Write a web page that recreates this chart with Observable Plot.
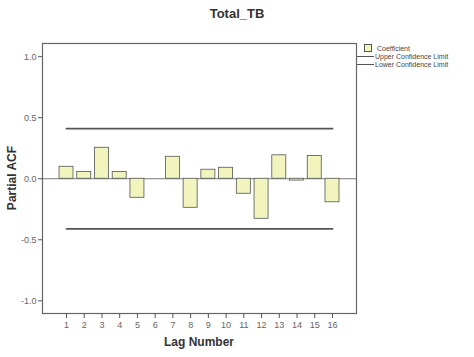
<!DOCTYPE html>
<html>
<head>
<meta charset="utf-8">
<script src="https://cdn.jsdelivr.net/npm/d3@7"></script>
<script src="https://cdn.jsdelivr.net/npm/@observablehq/plot@0.6"></script>
<style>
  body { margin: 0; background: #fff; font-family: "Liberation Sans", Arial, sans-serif; }
  #wrap { position: relative; width: 474px; height: 357px; }
  #chart { position: absolute; left: 0; top: 0; }
  .title { position: absolute; left: 0; width: 474px; top: 6px; text-align: center; font-weight: bold; font-size: 13px; color: #333; }
  .xlab { position: absolute; left: 42px; width: 314px; top: 335px; text-align: center; font-weight: bold; font-size: 12px; color: #333; }
  .ylab { position: absolute; left: 12px; top: 178px; transform: translate(-50%, -50%) rotate(-90deg); font-weight: bold; font-size: 12px; color: #333; white-space: nowrap; }
  .legend { position: absolute; left: 357px; top: 0; width: 117px; height: 80px; font-size: 7px; color: #444; }
  .legend .row { position: absolute; left: 0; display: flex; align-items: center; height: 7px; line-height: 7px; white-space: nowrap; }
  .legend .sw { width: 8px; height: 8px; background: #f2f4bd; border: 1px solid #555; box-sizing: border-box; margin-left: 7px; margin-right: 5px; }
  .legend .ln { width: 17px; height: 0; border-top: 1.5px solid #555; margin-right: 1px; }
</style>
</head>
<body>
<div id="wrap">
  <div id="chart"></div>
  <div class="title">Total_TB</div>
  <div class="ylab">Partial ACF</div>
  <div class="xlab">Lag Number</div>
  <div class="legend">
    <div class="row" style="top:44.5px"><span class="sw"></span>Coefficient</div>
    <div class="row" style="top:52.5px"><span class="ln"></span>Upper Confidence Limit</div>
    <div class="row" style="top:60.5px"><span class="ln"></span>Lower Confidence Limit</div>
  </div>
</div>
<script>
const lags = [1, 2, 3, 4, 5, 6, 7, 8, 9, 10, 11, 12, 13, 14, 15, 16];
const pacf = [0.098, 0.055, 0.254, 0.055, -0.156, 0.0, 0.18, -0.238, 0.074, 0.09, -0.123, -0.328, 0.192, -0.015, 0.186, -0.193];
const upperLimit = 0.41;
const lowerLimit = -0.41;
const yTicks = [-1.0, -0.5, 0.0, 0.5, 1.0];

const data = lags.map((lag, i) => ({lag, value: pacf[i]}));
const limits = [
  {lag: lags[0], value: upperLimit, which: "upper"},
  {lag: lags[lags.length - 1], value: upperLimit, which: "upper"},
  {lag: lags[0], value: lowerLimit, which: "lower"},
  {lag: lags[lags.length - 1], value: lowerLimit, which: "lower"}
];
const halfBar = 0.395;

const chart = Plot.plot({
  width: 474,
  height: 357,
  marginLeft: 42,
  marginRight: 118,
  marginTop: 43,
  marginBottom: 44,
  style: {fontFamily: "Liberation Sans, Arial, sans-serif", fontSize: "9px", color: "#555", background: "transparent"},
  x: {type: "linear", domain: [-0.354, 17.354]},
  y: {domain: [-1.104, 1.108]},
  marks: [
    Plot.ruleY([0], {stroke: "#777", strokeWidth: 1}),
    Plot.rectY(data, {x1: d => d.lag - halfBar, x2: d => d.lag + halfBar, y1: 0, y2: "value", fill: "#f2f4bd", stroke: "#555", strokeWidth: 0.8}),
    Plot.line(limits, {x: "lag", y: "value", z: "which", stroke: "#555", strokeWidth: 1.8}),
    Plot.frame({stroke: "#666", strokeWidth: 1.2}),
    Plot.axisX(lags, {tickSize: 5, tickPadding: 3, tickFormat: d => String(d), label: null, stroke: "#555", fill: "#666"}),
    Plot.axisY(yTicks, {tickSize: 4, tickPadding: 2, tickFormat: d => d.toFixed(1), label: null, stroke: "#555", fill: "#666"})
  ]
});
document.getElementById("chart").appendChild(chart);
</script>
</body>
</html>
